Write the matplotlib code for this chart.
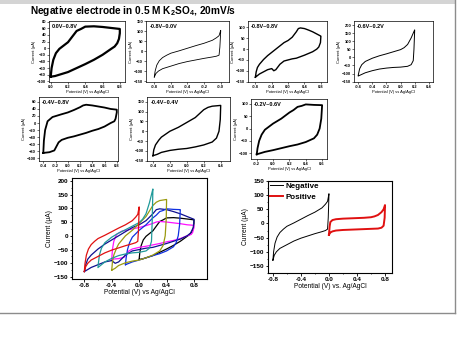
import numpy as np
import matplotlib.pyplot as plt
from matplotlib.patches import Rectangle
from matplotlib.lines import Line2D
from matplotlib.ticker import FormatStrFormatter, MultipleLocator

plt.rcParams['font.family'] = ['Liberation Sans', 'DejaVu Sans']
plt.rcParams['font.weight'] = 'bold'
plt.rcParams['mathtext.fontset'] = 'custom'
plt.rcParams['mathtext.bf'] = 'Liberation Sans:bold'
plt.rcParams['mathtext.rm'] = 'Liberation Sans:bold'
plt.rcParams['mathtext.default'] = 'bf'

# CV loops (potential V, current uA): anodic sweep then cathodic sweep back
cv_00_08_x = [0.0, 0.01, 0.03, 0.06, 0.1, 0.15, 0.2, 0.25, 0.3, 0.35, 0.4, 0.5, 0.6, 0.7, 0.8,
              0.8, 0.79, 0.77, 0.74, 0.7, 0.6, 0.5, 0.4, 0.3, 0.2, 0.1, 0.05, 0.0]
cv_00_08_y = [-85, -60, -35, -15, -2, 8, 18, 35, 52, 58, 65, 66, 64, 61, 58,
              45, 28, 15, 5, -2, -20, -35, -48, -60, -72, -80, -84, -86]

cv_m08_00_x = [-0.8, -0.79, -0.77, -0.74, -0.7, -0.65, -0.6, -0.5, -0.4, -0.3, -0.2, -0.1, -0.05, -0.02, 0.0,
               0.0, -0.01, -0.02, -0.05, -0.1, -0.2, -0.3, -0.4, -0.5, -0.6, -0.7, -0.75, -0.78, -0.8]
cv_m08_00_y = [-130, -100, -70, -48, -32, -20, -10, 2, 15, 28, 40, 55, 68, 78, 105,
               100, 20, -20, -25, -29, -36, -44, -52, -62, -75, -88, -100, -112, -130]

cv_m08_08_x = [-0.8, -0.78, -0.75, -0.7, -0.6, -0.5, -0.4, -0.3, -0.2, -0.1, 0.0, 0.1, 0.2, 0.25, 0.3,
               0.4, 0.5, 0.6, 0.7, 0.8,
               0.8, 0.79, 0.75, 0.7, 0.6, 0.5, 0.4, 0.3, 0.2, 0.1, 0.0, -0.1, -0.2, -0.3, -0.35,
               -0.4, -0.5, -0.6, -0.7, -0.8]
cv_m08_08_y = [-130, -105, -85, -70, -48, -30, -15, 0, 15, 30, 40, 55, 80, 95, 98,
               95, 88, 80, 70, 60,
               58, 30, 10, 0, -12, -20, -28, -35, -42, -45, -50, -55, -70, -95, -100,
               -90, -95, -105, -115, -130]

cv_m06_02_x = [-0.6, -0.58, -0.55, -0.5, -0.4, -0.3, -0.2, -0.1, 0.0, 0.05, 0.1, 0.15, 0.2,
               0.2, 0.19, 0.18, 0.15, 0.1, 0.0, -0.1, -0.2, -0.3, -0.4, -0.5, -0.55, -0.6]
cv_m06_02_y = [-110, -70, -45, -25, -5, 10, 22, 35, 48, 60, 80, 120, 170,
               165, 50, -20, -45, -55, -60, -62, -66, -72, -82, -95, -105, -115]

cv_m04_08_x = [-0.4, -0.39, -0.37, -0.33, -0.25, -0.1, 0.0, 0.1, 0.2, 0.25, 0.3, 0.4, 0.5, 0.6, 0.7, 0.8,
               0.8, 0.78, 0.76, 0.7, 0.6, 0.5, 0.4, 0.3, 0.2, 0.1, 0.0, -0.1, -0.15, -0.22, -0.3, -0.4]
cv_m04_08_y = [-85, -50, -20, 5, 17, 25, 30, 37, 45, 50, 52, 50, 47, 44, 40, 38,
               30, 12, 5, 0, -10, -17, -22, -28, -33, -38, -42, -48, -55, -78, -83, -85]

cv_m04_04_x = [-0.4, -0.39, -0.37, -0.33, -0.3, -0.2, -0.1, 0.0, 0.1, 0.15, 0.2, 0.25, 0.3, 0.35, 0.4,
               0.4, 0.395, 0.38, 0.35, 0.3, 0.2, 0.1, 0.0, -0.1, -0.2, -0.3, -0.35, -0.4]
cv_m04_04_y = [-125, -95, -70, -45, -30, 0, 20, 45, 70, 90, 110, 122, 128, 130, 132,
               130, 60, 0, -35, -55, -70, -80, -88, -92, -98, -108, -118, -125]

cv_m02_06_x = [-0.2, -0.19, -0.17, -0.14, -0.1, 0.0, 0.1, 0.2, 0.25, 0.3, 0.35, 0.4, 0.5, 0.6,
               0.6, 0.59, 0.57, 0.54, 0.5, 0.4, 0.3, 0.2, 0.1, 0.0, -0.1, -0.2]
cv_m02_06_y = [-105, -80, -50, -25, -5, 20, 40, 65, 75, 88, 92, 98, 96, 95,
               93, 40, 0, -25, -40, -55, -65, -72, -80, -88, -95, -105]

# positive electrode, 0 to 0.8 V
cv_pos_x = [0.0, 0.01, 0.02, 0.05, 0.1, 0.2, 0.3, 0.4, 0.5, 0.6, 0.65, 0.7, 0.75, 0.78, 0.8,
            0.8, 0.795, 0.78, 0.75, 0.7, 0.6, 0.5, 0.4, 0.3, 0.2, 0.1, 0.05, 0.02, 0.0]
cv_pos_y = [-40, -10, 5, 12, 15, 17, 18, 19, 20, 22, 25, 30, 40, 50, 65,
            60, 20, -8, -15, -18, -19, -20, -21, -22, -23, -25, -28, -32, -40]

W, H = 474, 344
fig = plt.figure(figsize=(W / 100, H / 100), dpi=100)


def box(l, t, r, b):
    return [l / W, 1 - b / H, (r - l) / W, (b - t) / H]


# slide frame
fig.add_artist(Rectangle((0, 1 - 4 / H), 455 / W, 4 / H, transform=fig.transFigure,
                         color='#d4d4d4', lw=0))
fig.add_artist(Line2D([455 / W, 455 / W], [1 - 313 / H, 1], transform=fig.transFigure,
                      color='#8c8c8c', lw=1.0))
fig.add_artist(Line2D([0, 455 / W], [1 - 313 / H, 1 - 313 / H], transform=fig.transFigure,
                      color='#8c8c8c', lw=1.0))

fig.text(30 / W, 1 - 11 / H, r'Negative electrode in 0.5 M K$_2$SO$_4$, 20mV/s',
         weight='bold', fontsize=7.3, ha='left', va='center')


def small_panel(rect, x, y, label, xlim, ylim, xticks, yticks, lw):
    ax = fig.add_axes(box(*rect))
    ax.plot(x, y, color='black', lw=lw)
    ax.set_xlim(xlim)
    ax.set_ylim(ylim)
    ax.set_xticks(xticks)
    ax.set_yticks(yticks)
    ax.xaxis.set_major_formatter(FormatStrFormatter('%.1f'))
    ax.tick_params(labelsize=2.9, length=1.2, width=0.4, pad=0.8)
    for s in ax.spines.values():
        s.set_linewidth(0.5)
    ax.set_xlabel('Potential (V) vs Ag/AgCl', fontsize=2.9, labelpad=0.6)
    ax.set_ylabel('Current (\u03bcA)', fontsize=2.9, labelpad=0.6)
    ax.text(0.04, 0.95, label, transform=ax.transAxes, fontsize=4.0,
            ha='left', va='top')
    return ax


small_panel((49, 21, 125, 82), cv_00_08_x, cv_00_08_y, '0.0V~0.8V',
            (-0.02, 0.86), (-102, 82), np.arange(0, 0.81, 0.2), np.arange(-100, 81, 20), 1.6)
small_panel((146, 21, 229, 82), cv_m08_00_x, cv_m08_00_y, '-0.8V~0.0V',
            (-0.9, 0.1), (-155, 152), np.arange(-0.8, 0.01, 0.2), np.arange(-150, 151, 50), 0.6)
small_panel((248, 21, 327, 82), cv_m08_08_x, cv_m08_08_y, '-0.8V~0.8V',
            (-0.98, 0.95), (-152, 130), np.arange(-0.8, 0.81, 0.4), np.arange(-150, 101, 50), 1.0)
small_panel((354, 21, 433, 82), cv_m06_02_x, cv_m06_02_y, '-0.6V~0.2V',
            (-0.66, 0.46), (-152, 225), np.arange(-0.6, 0.41, 0.2), np.arange(-150, 201, 50), 0.7)
small_panel((39, 97, 118, 161), cv_m04_08_x, cv_m04_08_y, '-0.4V~0.8V',
            (-0.47, 0.82), (-108, 74), np.arange(-0.4, 0.81, 0.2), np.arange(-100, 61, 20), 1.3)
small_panel((147, 97, 230, 161), cv_m04_04_x, cv_m04_04_y, '-0.4V~0.4V',
            (-0.47, 0.51), (-152, 175), np.arange(-0.4, 0.41, 0.2), np.arange(-150, 151, 50), 1.0)
small_panel((251, 99, 327, 159), cv_m02_06_x, cv_m02_06_y, '-0.2V~0.6V',
            (-0.27, 0.66), (-124, 120), np.arange(-0.2, 0.61, 0.2), np.arange(-100, 101, 50), 1.3)


def big_axes(ax, xlabel):
    ax.set_xticks([-0.8, -0.4, 0.0, 0.4, 0.8])
    ax.xaxis.set_major_formatter(FormatStrFormatter('%.1f'))
    ax.xaxis.set_minor_locator(MultipleLocator(0.2))
    ax.yaxis.set_minor_locator(MultipleLocator(25))
    ax.tick_params(labelsize=4.6, length=1.8, width=0.6, pad=0.8)
    ax.tick_params(which='minor', length=1.0, width=0.5)
    for s in ax.spines.values():
        s.set_linewidth(0.8)
    ax.set_xlabel(xlabel, fontsize=4.8, labelpad=0.8)
    ax.set_ylabel('Current (\u03bcA)', fontsize=4.8, labelpad=0.8)


# all windows overlaid
ax = fig.add_axes(box(72, 178, 207, 279))
overlay = [
    (cv_00_08_x, cv_00_08_y, 'black'),
    (cv_m04_08_x, cv_m04_08_y, '#ff10ff'),
    (cv_m08_08_x, cv_m08_08_y, '#101090'),
    (cv_m02_06_x, cv_m02_06_y, '#1030e0'),
    (cv_m04_04_x, cv_m04_04_y, '#9a9a10'),
    (cv_m06_02_x, cv_m06_02_y, '#209a9a'),
    (cv_m08_00_x, cv_m08_00_y, '#e01010'),
]
for x, y, c in overlay:
    ax.plot(x, y, color=c, lw=0.9)
ax.set_xlim(-0.98, 0.99)
ax.set_ylim(-157, 210)
ax.set_yticks(np.arange(-150, 201, 50))
big_axes(ax, 'Potential (V) vs Ag/AgCl')

# negative vs positive electrode
ax = fig.add_axes(box(268, 181, 392, 273))
ax.plot(cv_m08_00_x, cv_m08_00_y, color='black', lw=0.7, label='Negative')
ax.plot(cv_pos_x, cv_pos_y, color='#e01010', lw=1.4, label='Positive')
ax.set_xlim(-0.87, 0.9)
ax.set_ylim(-175, 150)
ax.set_yticks(np.arange(-150, 151, 50))
big_axes(ax, 'Potential (V) vs. Ag/AgCl')
ax.legend(loc='upper left', frameon=False, fontsize=5.8, handlelength=1.6,
          handletextpad=0.4, labelspacing=0.35, borderaxespad=0.0, borderpad=0.2)

fig.savefig('out.png', dpi=100)
